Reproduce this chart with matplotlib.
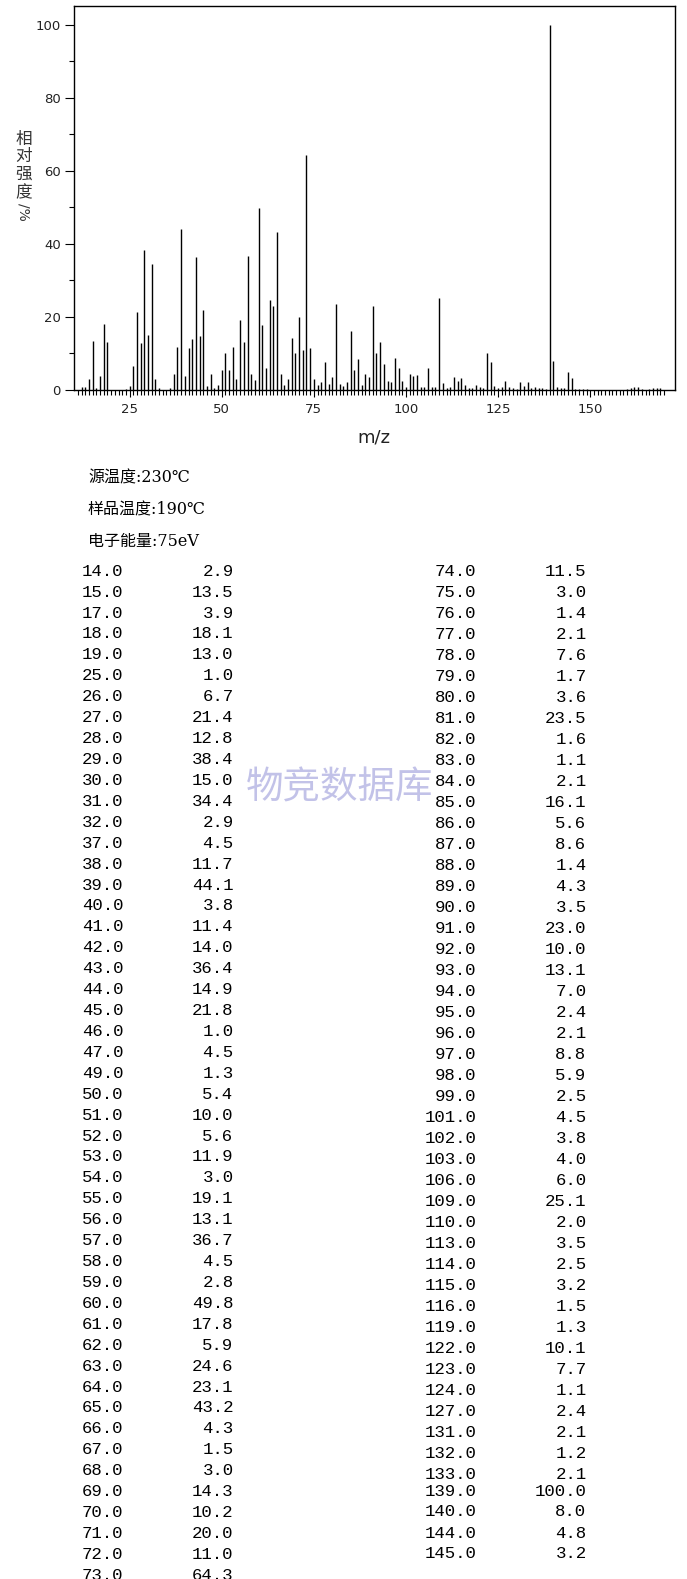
#!/usr/bin/env python3
"""
Mass spectrum page: stick plot on top, run conditions and the peak table below.
Saves out.png at 687x1579.
"""

import matplotlib
matplotlib.use("Agg")
import matplotlib.pyplot as plt
from matplotlib.ticker import FixedLocator, MultipleLocator

W, H = 687, 1579

# peaks listed in the table (m/z, relative intensity %)
mz = [14, 15, 17, 18, 19, 25, 26, 27, 28, 29, 30, 31, 32, 37, 38, 39, 40, 41,
      42, 43, 44, 45, 46, 47, 49, 50, 51, 52, 53, 54, 55, 56, 57, 58, 59, 60,
      61, 62, 63, 64, 65, 66, 67, 68, 69, 70, 71, 72, 73,
      74, 75, 76, 77, 78, 79, 80, 81, 82, 83, 84, 85, 86, 87, 88, 89, 90, 91,
      92, 93, 94, 95, 96, 97, 98, 99, 101, 102, 103, 106, 109, 110, 113, 114,
      115, 116, 119, 122, 123, 124, 127, 131, 132, 133, 139, 140, 144, 145]
rel_int = [2.9, 13.5, 3.9, 18.1, 13.0, 1.0, 6.7, 21.4, 12.8, 38.4, 15.0, 34.4,
           2.9, 4.5, 11.7, 44.1, 3.8, 11.4, 14.0, 36.4, 14.9, 21.8, 1.0, 4.5,
           1.3, 5.4, 10.0, 5.6, 11.9, 3.0, 19.1, 13.1, 36.7, 4.5, 2.8, 49.8,
           17.8, 5.9, 24.6, 23.1, 43.2, 4.3, 1.5, 3.0, 14.3, 10.2, 20.0, 11.0,
           64.3,
           11.5, 3.0, 1.4, 2.1, 7.6, 1.7, 3.6, 23.5, 1.6, 1.1, 2.1, 16.1, 5.6,
           8.6, 1.4, 4.3, 3.5, 23.0, 10.0, 13.1, 7.0, 2.4, 2.1, 8.8, 5.9, 2.5,
           4.5, 3.8, 4.0, 6.0, 25.1, 2.0, 3.5, 2.5, 3.2, 1.5, 1.3, 10.1, 7.7,
           1.1, 2.4, 2.1, 1.2, 2.1, 100.0, 8.0, 4.8, 3.2]

# small (<1%) peaks only visible in the plot, read by eye
minor_mz = [12, 13, 16, 24, 33, 36, 48, 100, 104, 105, 107, 108, 111, 112,
            117, 118, 120, 121, 125, 126, 128, 129, 130, 134, 135, 136, 137,
            138, 141, 142, 143, 146, 147, 148, 149, 160, 161, 162, 163, 164,
            166, 167, 168, 169]
minor_int = [0.7, 0.7, 0.6, 0.4, 0.6, 0.6, 0.5, 0.7, 0.7, 0.7, 0.9, 0.9, 0.5,
             0.9, 0.6, 0.6, 0.8, 0.5, 0.6, 0.9, 0.7, 0.5, 0.4, 0.5, 0.7, 0.5,
             0.5, 0.4, 0.9, 0.5, 0.5, 0.4, 0.3, 0.3, 0.4, 0.4, 0.5, 0.9, 0.9,
             0.3, 0.4, 0.6, 0.6, 0.5]

x_major = [25, 50, 75, 100, 125, 150]
conditions = ["源温度:230℃", "样品温度:190℃", "电子能量:75eV"]
ylabel_chars = ["相", "对", "强", "度"]
watermark = "物竞数据库"

N_LEFT = 49  # rows in the left table column

CJK = ["Noto Sans CJK SC", "DejaVu Sans"]
COND_FONT = ["DejaVu Serif", "Noto Sans CJK SC", "DejaVu Sans"]
MONO = ["Liberation Mono", "DejaVu Sans Mono"]


def fx(px):
    return px / W


def fy(py):
    return 1 - py / H


def draw_spectrum(fig):
    ax = fig.add_axes([fx(74.3), fy(390), fx(675) - fx(74.3), fy(6.3) - fy(390)])
    ax.vlines(mz, 0, rel_int, color="black", linewidth=1.0)
    ax.vlines(minor_mz, 0, minor_int, color="black", linewidth=1.0)

    ax.set_xlim(10, 173)
    ax.set_ylim(0, 105)
    for s in ax.spines.values():
        s.set_linewidth(1.0)
        s.set_color("black")

    ax.xaxis.set_major_locator(FixedLocator(x_major))
    ax.xaxis.set_minor_locator(FixedLocator(range(11, 171)))
    ax.yaxis.set_major_locator(MultipleLocator(20))
    ax.yaxis.set_minor_locator(MultipleLocator(10))
    ax.tick_params(axis="x", which="major", length=5, width=0.8, pad=4.5,
                   labelsize=9.5, direction="out", labelcolor="#222222")
    ax.tick_params(axis="x", which="minor", length=3.3, width=0.8,
                   direction="out")
    ax.tick_params(axis="y", which="major", length=6.8, width=0.8, pad=3,
                   labelsize=9.5, direction="out", labelcolor="#222222")
    ax.tick_params(axis="y", which="minor", length=3.6, width=0.8,
                   direction="out")

    fig.text(fx(374), fy(438), "m/z", fontsize=13, ha="center", va="center",
             color="#222222")

    # stacked vertical y label: upright characters, then rotated "/%"
    for ch, yc in zip(ylabel_chars, [139.5, 156.5, 174.5, 193]):
        fig.text(fx(24), fy(yc), ch, fontsize=12, family=CJK,
                 ha="center", va="center", color="#333333")
    fig.text(fx(24), fy(211.5), "/%", fontsize=10, rotation=-90,
             ha="center", va="center", color="#333333")
    return ax


def draw_text_block(fig):
    for i, line in enumerate(conditions):
        fig.text(fx(88), fy(482 + 32 * i), line, fontsize=11.5,
                 family=COND_FONT, ha="left", va="baseline", color="black")

    left = list(zip(mz[:N_LEFT], rel_int[:N_LEFT]))
    right = list(zip(mz[N_LEFT:], rel_int[N_LEFT:]))

    for i, (m, v) in enumerate(left):
        yb = 575.7 + 20.92 * i
        fig.text(fx(123.5), fy(yb), f"{m:.1f}", fontsize=12.5, family=MONO,
                 ha="right", va="baseline")
        fig.text(fx(233.5), fy(yb), f"{v:.1f}", fontsize=12.5, family=MONO,
                 ha="right", va="baseline")

    for i, (m, v) in enumerate(right):
        yb = 575.7 + 21.0 * i
        if i >= 44:  # source page squeezes the rows from 139.0 on
            yb -= 4.2
        fig.text(fx(476.5), fy(yb), f"{m:.1f}", fontsize=12.5, family=MONO,
                 ha="right", va="baseline")
        fig.text(fx(586.5), fy(yb), f"{v:.1f}", fontsize=12.5, family=MONO,
                 ha="right", va="baseline")

    fig.text(fx(340), fy(788), watermark, fontsize=27, family=CJK,
             ha="center", va="center", color="#bcbce6", alpha=0.9, zorder=10)


if __name__ == "__main__":
    fig = plt.figure(figsize=(W / 100, H / 100), dpi=100)
    fig.patch.set_facecolor("white")
    draw_spectrum(fig)
    draw_text_block(fig)
    fig.savefig("out.png", dpi=100)
    print("Saved out.png")
